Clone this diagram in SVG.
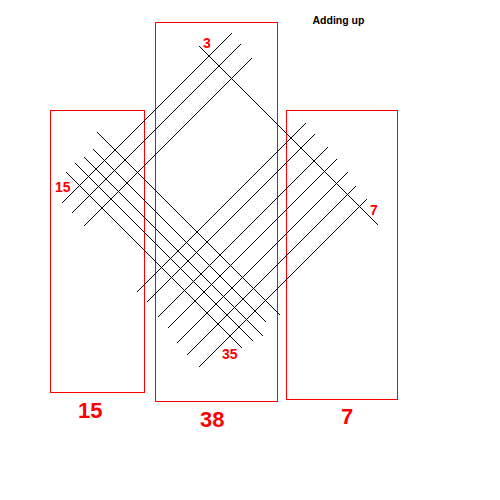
<svg xmlns="http://www.w3.org/2000/svg" width="500" height="500" viewBox="0 0 500 500">
<style>
.box{fill:none;stroke:#ff0000;stroke-width:1;shape-rendering:crispEdges}
.ln{stroke:#000;stroke-width:1;shape-rendering:crispEdges}
.lbl{font-family:"Liberation Sans",Arial,sans-serif;font-weight:bold;fill:#ff0000;text-anchor:middle}
.sm{font-size:14px}
.big{font-size:22px}
.title{font-family:"Liberation Sans",Arial,sans-serif;font-weight:bold;font-size:10.5px;fill:#000}
</style>
<rect width="500" height="500" fill="#fff"/>
<g id="box-hundreds"><rect class="box" x="50.5" y="110.5" width="94" height="282"/></g>
<g id="box-tens"><rect class="box" x="155.5" y="22.5" width="122" height="379"/></g>
<g id="box-ones"><rect class="box" x="286.5" y="110.5" width="111" height="289"/></g>
<g id="connectors">
<line class="ln" x1="62" y1="203" x2="232" y2="33"/>
<line class="ln" x1="72" y1="213" x2="241" y2="44"/>
<line class="ln" x1="84" y1="226" x2="252" y2="58"/>
<line class="ln" x1="137" y1="292" x2="306" y2="123"/>
<line class="ln" x1="147" y1="302" x2="315" y2="134"/>
<line class="ln" x1="158" y1="317" x2="328" y2="147"/>
<line class="ln" x1="168" y1="328" x2="337" y2="159"/>
<line class="ln" x1="177" y1="343" x2="348" y2="172"/>
<line class="ln" x1="187" y1="355" x2="356" y2="186"/>
<line class="ln" x1="199" y1="367" x2="367" y2="199"/>
<line class="ln" x1="199" y1="46" x2="378" y2="225"/>
<line class="ln" x1="97" y1="132" x2="280" y2="315"/>
<line class="ln" x1="93" y1="149" x2="266" y2="322"/>
<line class="ln" x1="84" y1="157" x2="263" y2="336"/>
<line class="ln" x1="75" y1="163" x2="253" y2="341"/>
<line class="ln" x1="66" y1="172" x2="242" y2="348"/>
</g>
<g id="labels">
<text class="title" x="312.5" y="24">Adding up</text>
<text class="lbl sm" x="207" y="47.8">3</text>
<text class="lbl sm" x="62.7" y="191.7">15</text>
<text class="lbl sm" x="374" y="215.3">7</text>
<text class="lbl sm" x="229.7" y="359.3">35</text>
<text class="lbl big" x="90.2" y="418.3">15</text>
<text class="lbl big" x="212.2" y="426.7">38</text>
<text class="lbl big" x="347" y="424.3">7</text>
</g>
</svg>
